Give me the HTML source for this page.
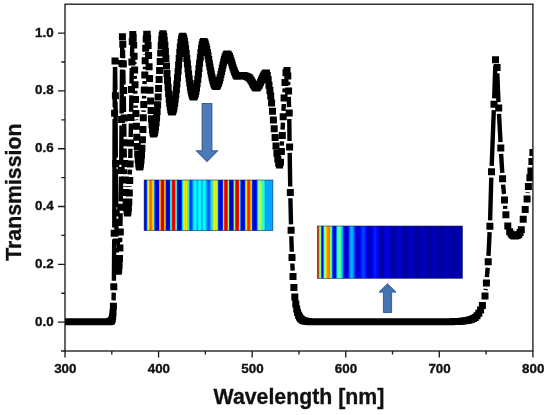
<!DOCTYPE html>
<html><head><meta charset="utf-8"><title>Transmission</title>
<style>
html,body{margin:0;padding:0;background:#fff;}
body{width:550px;height:415px;overflow:hidden;}
svg{display:block;}
text{font-family:"Liberation Sans",Arial,sans-serif;font-weight:bold;fill:#111;}
.tl{font-size:13.4px;stroke:#111;stroke-width:0.35px;}
.al{font-size:21.3px;stroke:#111;stroke-width:0.3px;}
</style></head><body>
<svg width="550" height="415" viewBox="0 0 550 415">
<defs><linearGradient id="g1" x1="0" x2="1" y1="0" y2="0"><stop offset="0.0000" stop-color="#0000de"/><stop offset="0.0039" stop-color="#0000c6"/><stop offset="0.0078" stop-color="#0000bd"/><stop offset="0.0117" stop-color="#0000c5"/><stop offset="0.0156" stop-color="#0000f8"/><stop offset="0.0195" stop-color="#004dff"/><stop offset="0.0233" stop-color="#00b7ff"/><stop offset="0.0272" stop-color="#2dffd1"/><stop offset="0.0311" stop-color="#a0ff5e"/><stop offset="0.0350" stop-color="#fff600"/><stop offset="0.0389" stop-color="#ffa800"/><stop offset="0.0428" stop-color="#ff7e00"/><stop offset="0.0467" stop-color="#ff6b00"/><stop offset="0.0506" stop-color="#ff6100"/><stop offset="0.0545" stop-color="#ff6600"/><stop offset="0.0584" stop-color="#ff7700"/><stop offset="0.0623" stop-color="#ff9600"/><stop offset="0.0661" stop-color="#ffdd00"/><stop offset="0.0700" stop-color="#bbff43"/><stop offset="0.0739" stop-color="#46ffb8"/><stop offset="0.0778" stop-color="#00ccff"/><stop offset="0.0817" stop-color="#005eff"/><stop offset="0.0856" stop-color="#0006ff"/><stop offset="0.0895" stop-color="#0000d2"/><stop offset="0.0934" stop-color="#0000c5"/><stop offset="0.0973" stop-color="#0000be"/><stop offset="0.1012" stop-color="#0000bc"/><stop offset="0.1051" stop-color="#0000c1"/><stop offset="0.1089" stop-color="#0000ca"/><stop offset="0.1128" stop-color="#0000fa"/><stop offset="0.1167" stop-color="#007bff"/><stop offset="0.1206" stop-color="#2bffd3"/><stop offset="0.1245" stop-color="#e7ff17"/><stop offset="0.1284" stop-color="#ff6f00"/><stop offset="0.1323" stop-color="#fe0000"/><stop offset="0.1362" stop-color="#db0000"/><stop offset="0.1401" stop-color="#cb0000"/><stop offset="0.1440" stop-color="#c70000"/><stop offset="0.1479" stop-color="#d30000"/><stop offset="0.1518" stop-color="#e80000"/><stop offset="0.1556" stop-color="#ff3a00"/><stop offset="0.1595" stop-color="#ffd500"/><stop offset="0.1634" stop-color="#6aff94"/><stop offset="0.1673" stop-color="#00acff"/><stop offset="0.1712" stop-color="#0017ff"/><stop offset="0.1751" stop-color="#0000cd"/><stop offset="0.1790" stop-color="#0000c3"/><stop offset="0.1829" stop-color="#0000bd"/><stop offset="0.1868" stop-color="#0000bd"/><stop offset="0.1907" stop-color="#0000c3"/><stop offset="0.1946" stop-color="#0000cd"/><stop offset="0.1984" stop-color="#000eff"/><stop offset="0.2023" stop-color="#008dff"/><stop offset="0.2062" stop-color="#33ffcb"/><stop offset="0.2101" stop-color="#e1ff1d"/><stop offset="0.2140" stop-color="#ff8000"/><stop offset="0.2179" stop-color="#ff1200"/><stop offset="0.2218" stop-color="#e80000"/><stop offset="0.2257" stop-color="#d70000"/><stop offset="0.2296" stop-color="#d10000"/><stop offset="0.2335" stop-color="#da0000"/><stop offset="0.2374" stop-color="#ee0000"/><stop offset="0.2412" stop-color="#ff2f00"/><stop offset="0.2451" stop-color="#ffb900"/><stop offset="0.2490" stop-color="#93ff6b"/><stop offset="0.2529" stop-color="#00daff"/><stop offset="0.2568" stop-color="#003cff"/><stop offset="0.2607" stop-color="#0000da"/><stop offset="0.2646" stop-color="#0000c6"/><stop offset="0.2685" stop-color="#0000be"/><stop offset="0.2724" stop-color="#0000bc"/><stop offset="0.2763" stop-color="#0000c1"/><stop offset="0.2802" stop-color="#0000c9"/><stop offset="0.2840" stop-color="#0000dc"/><stop offset="0.2879" stop-color="#000bff"/><stop offset="0.2918" stop-color="#004dff"/><stop offset="0.2957" stop-color="#009eff"/><stop offset="0.2996" stop-color="#00f6ff"/><stop offset="0.3035" stop-color="#50ffae"/><stop offset="0.3074" stop-color="#a4ff5a"/><stop offset="0.3113" stop-color="#ecff12"/><stop offset="0.3152" stop-color="#ffdb00"/><stop offset="0.3191" stop-color="#ffbf00"/><stop offset="0.3230" stop-color="#ffc000"/><stop offset="0.3268" stop-color="#ffd500"/><stop offset="0.3307" stop-color="#fff600"/><stop offset="0.3346" stop-color="#ddff21"/><stop offset="0.3385" stop-color="#b2ff4c"/><stop offset="0.3424" stop-color="#74ff8a"/><stop offset="0.3463" stop-color="#1dffe1"/><stop offset="0.3502" stop-color="#00beff"/><stop offset="0.3541" stop-color="#006cff"/><stop offset="0.3580" stop-color="#0037ff"/><stop offset="0.3619" stop-color="#002fff"/><stop offset="0.3658" stop-color="#003cff"/><stop offset="0.3696" stop-color="#0055ff"/><stop offset="0.3735" stop-color="#0075ff"/><stop offset="0.3774" stop-color="#0099ff"/><stop offset="0.3813" stop-color="#00bdff"/><stop offset="0.3852" stop-color="#00ddff"/><stop offset="0.3891" stop-color="#00f6ff"/><stop offset="0.3930" stop-color="#04fffa"/><stop offset="0.3969" stop-color="#02fffc"/><stop offset="0.4008" stop-color="#00f7ff"/><stop offset="0.4047" stop-color="#00e8ff"/><stop offset="0.4086" stop-color="#00daff"/><stop offset="0.4125" stop-color="#00d1ff"/><stop offset="0.4163" stop-color="#00d4ff"/><stop offset="0.4202" stop-color="#00e3ff"/><stop offset="0.4241" stop-color="#00f6ff"/><stop offset="0.4280" stop-color="#08fff6"/><stop offset="0.4319" stop-color="#0fffef"/><stop offset="0.4358" stop-color="#06fff8"/><stop offset="0.4397" stop-color="#00f2ff"/><stop offset="0.4436" stop-color="#00deff"/><stop offset="0.4475" stop-color="#00d2ff"/><stop offset="0.4514" stop-color="#00d3ff"/><stop offset="0.4553" stop-color="#00ddff"/><stop offset="0.4591" stop-color="#00ebff"/><stop offset="0.4630" stop-color="#00f9ff"/><stop offset="0.4669" stop-color="#03fffb"/><stop offset="0.4708" stop-color="#03fffb"/><stop offset="0.4747" stop-color="#00f3ff"/><stop offset="0.4786" stop-color="#00daff"/><stop offset="0.4825" stop-color="#00bbff"/><stop offset="0.4864" stop-color="#0099ff"/><stop offset="0.4903" stop-color="#007bff"/><stop offset="0.4942" stop-color="#0063ff"/><stop offset="0.4981" stop-color="#0057ff"/><stop offset="0.5019" stop-color="#0059ff"/><stop offset="0.5058" stop-color="#0066ff"/><stop offset="0.5097" stop-color="#007cff"/><stop offset="0.5136" stop-color="#0099ff"/><stop offset="0.5175" stop-color="#00baff"/><stop offset="0.5214" stop-color="#00deff"/><stop offset="0.5253" stop-color="#07fff7"/><stop offset="0.5292" stop-color="#43ffbb"/><stop offset="0.5331" stop-color="#7bff83"/><stop offset="0.5370" stop-color="#a8ff56"/><stop offset="0.5409" stop-color="#d5ff29"/><stop offset="0.5447" stop-color="#feff00"/><stop offset="0.5486" stop-color="#ffe100"/><stop offset="0.5525" stop-color="#ffd100"/><stop offset="0.5564" stop-color="#ffdd00"/><stop offset="0.5603" stop-color="#ecff12"/><stop offset="0.5642" stop-color="#9bff63"/><stop offset="0.5681" stop-color="#38ffc6"/><stop offset="0.5720" stop-color="#00cdff"/><stop offset="0.5759" stop-color="#0069ff"/><stop offset="0.5798" stop-color="#0015ff"/><stop offset="0.5837" stop-color="#0000db"/><stop offset="0.5875" stop-color="#0000c8"/><stop offset="0.5914" stop-color="#0000c0"/><stop offset="0.5953" stop-color="#0000bc"/><stop offset="0.5992" stop-color="#0000bf"/><stop offset="0.6031" stop-color="#0000c7"/><stop offset="0.6070" stop-color="#0000e7"/><stop offset="0.6109" stop-color="#006dff"/><stop offset="0.6148" stop-color="#34ffca"/><stop offset="0.6187" stop-color="#fff600"/><stop offset="0.6226" stop-color="#ff4800"/><stop offset="0.6265" stop-color="#f00000"/><stop offset="0.6304" stop-color="#dc0000"/><stop offset="0.6342" stop-color="#d10000"/><stop offset="0.6381" stop-color="#d50000"/><stop offset="0.6420" stop-color="#e60000"/><stop offset="0.6459" stop-color="#ff0f00"/><stop offset="0.6498" stop-color="#ff8900"/><stop offset="0.6537" stop-color="#c6ff38"/><stop offset="0.6576" stop-color="#06fff8"/><stop offset="0.6615" stop-color="#0059ff"/><stop offset="0.6654" stop-color="#0000e5"/><stop offset="0.6693" stop-color="#0000c7"/><stop offset="0.6732" stop-color="#0000bf"/><stop offset="0.6770" stop-color="#0000bc"/><stop offset="0.6809" stop-color="#0000bf"/><stop offset="0.6848" stop-color="#0000c8"/><stop offset="0.6887" stop-color="#0000e1"/><stop offset="0.6926" stop-color="#003dff"/><stop offset="0.6965" stop-color="#00c7ff"/><stop offset="0.7004" stop-color="#6bff93"/><stop offset="0.7043" stop-color="#ffed00"/><stop offset="0.7082" stop-color="#ff5f00"/><stop offset="0.7121" stop-color="#fe0000"/><stop offset="0.7160" stop-color="#dc0000"/><stop offset="0.7198" stop-color="#cb0000"/><stop offset="0.7237" stop-color="#c70000"/><stop offset="0.7276" stop-color="#d20000"/><stop offset="0.7315" stop-color="#e60000"/><stop offset="0.7354" stop-color="#ff3400"/><stop offset="0.7393" stop-color="#ffcc00"/><stop offset="0.7432" stop-color="#74ff8a"/><stop offset="0.7471" stop-color="#00b5ff"/><stop offset="0.7510" stop-color="#001dff"/><stop offset="0.7549" stop-color="#0000ce"/><stop offset="0.7588" stop-color="#0000c3"/><stop offset="0.7626" stop-color="#0000bd"/><stop offset="0.7665" stop-color="#0000bd"/><stop offset="0.7704" stop-color="#0000c3"/><stop offset="0.7743" stop-color="#0000cc"/><stop offset="0.7782" stop-color="#0000f9"/><stop offset="0.7821" stop-color="#0058ff"/><stop offset="0.7860" stop-color="#00d4ff"/><stop offset="0.7899" stop-color="#60ff9e"/><stop offset="0.7938" stop-color="#e8ff16"/><stop offset="0.7977" stop-color="#ffa200"/><stop offset="0.8016" stop-color="#ff5500"/><stop offset="0.8054" stop-color="#ff3800"/><stop offset="0.8093" stop-color="#ff2700"/><stop offset="0.8132" stop-color="#ff2400"/><stop offset="0.8171" stop-color="#ff3000"/><stop offset="0.8210" stop-color="#ff4400"/><stop offset="0.8249" stop-color="#ff8500"/><stop offset="0.8288" stop-color="#fffd00"/><stop offset="0.8327" stop-color="#6aff94"/><stop offset="0.8366" stop-color="#00cdff"/><stop offset="0.8405" stop-color="#0044ff"/><stop offset="0.8444" stop-color="#0000e6"/><stop offset="0.8482" stop-color="#0000c8"/><stop offset="0.8521" stop-color="#0000c0"/><stop offset="0.8560" stop-color="#0000bc"/><stop offset="0.8599" stop-color="#0000bf"/><stop offset="0.8638" stop-color="#0000c7"/><stop offset="0.8677" stop-color="#0000d6"/><stop offset="0.8716" stop-color="#0007ff"/><stop offset="0.8755" stop-color="#0052ff"/><stop offset="0.8794" stop-color="#00acff"/><stop offset="0.8833" stop-color="#0bfff3"/><stop offset="0.8872" stop-color="#61ff9d"/><stop offset="0.8911" stop-color="#a5ff59"/><stop offset="0.8949" stop-color="#ccff32"/><stop offset="0.8988" stop-color="#cdff31"/><stop offset="0.9027" stop-color="#b9ff45"/><stop offset="0.9066" stop-color="#99ff65"/><stop offset="0.9105" stop-color="#74ff8a"/><stop offset="0.9144" stop-color="#52ffac"/><stop offset="0.9183" stop-color="#3bffc3"/><stop offset="0.9222" stop-color="#31ffcd"/><stop offset="0.9261" stop-color="#2cffd2"/><stop offset="0.9300" stop-color="#27ffd7"/><stop offset="0.9339" stop-color="#1fffdf"/><stop offset="0.9377" stop-color="#00edff"/><stop offset="0.9416" stop-color="#00a8ff"/><stop offset="0.9455" stop-color="#00a8ff"/><stop offset="0.9494" stop-color="#00a8ff"/><stop offset="0.9533" stop-color="#00a8ff"/><stop offset="0.9572" stop-color="#00a8ff"/><stop offset="0.9611" stop-color="#00a8ff"/><stop offset="0.9650" stop-color="#00a8ff"/><stop offset="0.9689" stop-color="#00a8ff"/><stop offset="0.9728" stop-color="#00a8ff"/><stop offset="0.9767" stop-color="#00a8ff"/><stop offset="0.9805" stop-color="#00a8ff"/><stop offset="0.9844" stop-color="#00a8ff"/><stop offset="0.9883" stop-color="#00a8ff"/><stop offset="0.9922" stop-color="#00a8ff"/><stop offset="0.9961" stop-color="#00a8ff"/><stop offset="1.0000" stop-color="#00a8ff"/></linearGradient><linearGradient id="g2" x1="0" x2="1" y1="0" y2="0"><stop offset="0.0000" stop-color="#ff4c00"/><stop offset="0.0034" stop-color="#ff5500"/><stop offset="0.0069" stop-color="#ff6900"/><stop offset="0.0103" stop-color="#ff8400"/><stop offset="0.0138" stop-color="#ffa600"/><stop offset="0.0172" stop-color="#ffdb00"/><stop offset="0.0207" stop-color="#baff44"/><stop offset="0.0241" stop-color="#32ffcc"/><stop offset="0.0276" stop-color="#0097ff"/><stop offset="0.0310" stop-color="#0000fd"/><stop offset="0.0345" stop-color="#0000e0"/><stop offset="0.0379" stop-color="#0012ff"/><stop offset="0.0414" stop-color="#005fff"/><stop offset="0.0448" stop-color="#00c7ff"/><stop offset="0.0483" stop-color="#59ffa5"/><stop offset="0.0517" stop-color="#a6ff58"/><stop offset="0.0552" stop-color="#d4ff2a"/><stop offset="0.0586" stop-color="#fffa00"/><stop offset="0.0621" stop-color="#ffcd00"/><stop offset="0.0655" stop-color="#ffac00"/><stop offset="0.0690" stop-color="#ff9100"/><stop offset="0.0724" stop-color="#ff8100"/><stop offset="0.0759" stop-color="#ff8000"/><stop offset="0.0793" stop-color="#ff8300"/><stop offset="0.0828" stop-color="#ff8a00"/><stop offset="0.0862" stop-color="#cfff2f"/><stop offset="0.0897" stop-color="#8dff71"/><stop offset="0.0931" stop-color="#67ff97"/><stop offset="0.0966" stop-color="#35ffc9"/><stop offset="0.1000" stop-color="#00f6ff"/><stop offset="0.1034" stop-color="#0083ff"/><stop offset="0.1069" stop-color="#000fff"/><stop offset="0.1103" stop-color="#0000e6"/><stop offset="0.1138" stop-color="#0000d0"/><stop offset="0.1172" stop-color="#0000c7"/><stop offset="0.1207" stop-color="#0000cf"/><stop offset="0.1241" stop-color="#0000ea"/><stop offset="0.1276" stop-color="#0011ff"/><stop offset="0.1310" stop-color="#0063ff"/><stop offset="0.1345" stop-color="#00d3ff"/><stop offset="0.1379" stop-color="#1bffe3"/><stop offset="0.1414" stop-color="#39ffc5"/><stop offset="0.1448" stop-color="#51ffad"/><stop offset="0.1483" stop-color="#5effa0"/><stop offset="0.1517" stop-color="#60ff9e"/><stop offset="0.1552" stop-color="#5dffa1"/><stop offset="0.1586" stop-color="#57ffa7"/><stop offset="0.1621" stop-color="#4dffb1"/><stop offset="0.1655" stop-color="#41ffbd"/><stop offset="0.1690" stop-color="#13ffeb"/><stop offset="0.1724" stop-color="#00c9ff"/><stop offset="0.1759" stop-color="#007fff"/><stop offset="0.1793" stop-color="#002aff"/><stop offset="0.1828" stop-color="#0000f8"/><stop offset="0.1862" stop-color="#0000e5"/><stop offset="0.1897" stop-color="#0000d6"/><stop offset="0.1931" stop-color="#0000cc"/><stop offset="0.1966" stop-color="#0000c7"/><stop offset="0.2000" stop-color="#0000c9"/><stop offset="0.2034" stop-color="#0000d6"/><stop offset="0.2069" stop-color="#0000e9"/><stop offset="0.2103" stop-color="#0000ff"/><stop offset="0.2138" stop-color="#0015ff"/><stop offset="0.2172" stop-color="#0030ff"/><stop offset="0.2207" stop-color="#0052ff"/><stop offset="0.2241" stop-color="#0075ff"/><stop offset="0.2276" stop-color="#0096ff"/><stop offset="0.2310" stop-color="#00afff"/><stop offset="0.2345" stop-color="#00bbff"/><stop offset="0.2379" stop-color="#00baff"/><stop offset="0.2414" stop-color="#00aeff"/><stop offset="0.2448" stop-color="#009cff"/><stop offset="0.2483" stop-color="#0083ff"/><stop offset="0.2517" stop-color="#0067ff"/><stop offset="0.2552" stop-color="#0048ff"/><stop offset="0.2586" stop-color="#0029ff"/><stop offset="0.2621" stop-color="#000bff"/><stop offset="0.2655" stop-color="#0000f0"/><stop offset="0.2690" stop-color="#0000db"/><stop offset="0.2724" stop-color="#0000cc"/><stop offset="0.2759" stop-color="#0000c6"/><stop offset="0.2793" stop-color="#0000c8"/><stop offset="0.2828" stop-color="#0000cf"/><stop offset="0.2862" stop-color="#0000d9"/><stop offset="0.2897" stop-color="#0000e5"/><stop offset="0.2931" stop-color="#0000f3"/><stop offset="0.2966" stop-color="#0003ff"/><stop offset="0.3000" stop-color="#0013ff"/><stop offset="0.3034" stop-color="#0021ff"/><stop offset="0.3069" stop-color="#002eff"/><stop offset="0.3103" stop-color="#0038ff"/><stop offset="0.3138" stop-color="#003fff"/><stop offset="0.3172" stop-color="#0042ff"/><stop offset="0.3207" stop-color="#003fff"/><stop offset="0.3241" stop-color="#0038ff"/><stop offset="0.3276" stop-color="#002cff"/><stop offset="0.3310" stop-color="#001dff"/><stop offset="0.3345" stop-color="#000cff"/><stop offset="0.3379" stop-color="#0000f9"/><stop offset="0.3414" stop-color="#0000e7"/><stop offset="0.3448" stop-color="#0000d6"/><stop offset="0.3483" stop-color="#0000c7"/><stop offset="0.3517" stop-color="#0000bc"/><stop offset="0.3552" stop-color="#0000b4"/><stop offset="0.3586" stop-color="#0000b2"/><stop offset="0.3621" stop-color="#0000b5"/><stop offset="0.3655" stop-color="#0000bc"/><stop offset="0.3690" stop-color="#0000c6"/><stop offset="0.3724" stop-color="#0000d2"/><stop offset="0.3759" stop-color="#0000e0"/><stop offset="0.3793" stop-color="#0000ee"/><stop offset="0.3828" stop-color="#0000fc"/><stop offset="0.3862" stop-color="#0009ff"/><stop offset="0.3897" stop-color="#0013ff"/><stop offset="0.3931" stop-color="#001bff"/><stop offset="0.3966" stop-color="#001eff"/><stop offset="0.4000" stop-color="#001dff"/><stop offset="0.4034" stop-color="#0017ff"/><stop offset="0.4069" stop-color="#000fff"/><stop offset="0.4103" stop-color="#0003ff"/><stop offset="0.4138" stop-color="#0000f5"/><stop offset="0.4172" stop-color="#0000e6"/><stop offset="0.4207" stop-color="#0000d8"/><stop offset="0.4241" stop-color="#0000c9"/><stop offset="0.4276" stop-color="#0000bc"/><stop offset="0.4310" stop-color="#0000b1"/><stop offset="0.4345" stop-color="#0000a8"/><stop offset="0.4379" stop-color="#0000a4"/><stop offset="0.4414" stop-color="#0000a3"/><stop offset="0.4448" stop-color="#0000a5"/><stop offset="0.4483" stop-color="#0000a9"/><stop offset="0.4517" stop-color="#0000af"/><stop offset="0.4552" stop-color="#0000b6"/><stop offset="0.4586" stop-color="#0000bd"/><stop offset="0.4621" stop-color="#0000c5"/><stop offset="0.4655" stop-color="#0000cd"/><stop offset="0.4690" stop-color="#0000d5"/><stop offset="0.4724" stop-color="#0000db"/><stop offset="0.4759" stop-color="#0000e0"/><stop offset="0.4793" stop-color="#0000e4"/><stop offset="0.4828" stop-color="#0000e5"/><stop offset="0.4862" stop-color="#0000e4"/><stop offset="0.4897" stop-color="#0000e0"/><stop offset="0.4931" stop-color="#0000da"/><stop offset="0.4966" stop-color="#0000d2"/><stop offset="0.5000" stop-color="#0000c9"/><stop offset="0.5034" stop-color="#0000c0"/><stop offset="0.5069" stop-color="#0000b7"/><stop offset="0.5103" stop-color="#0000af"/><stop offset="0.5138" stop-color="#0000a8"/><stop offset="0.5172" stop-color="#0000a2"/><stop offset="0.5207" stop-color="#00009f"/><stop offset="0.5241" stop-color="#00009e"/><stop offset="0.5276" stop-color="#00009f"/><stop offset="0.5310" stop-color="#0000a2"/><stop offset="0.5345" stop-color="#0000a6"/><stop offset="0.5379" stop-color="#0000ac"/><stop offset="0.5414" stop-color="#0000b2"/><stop offset="0.5448" stop-color="#0000b8"/><stop offset="0.5483" stop-color="#0000be"/><stop offset="0.5517" stop-color="#0000c4"/><stop offset="0.5552" stop-color="#0000c9"/><stop offset="0.5586" stop-color="#0000cd"/><stop offset="0.5621" stop-color="#0000d0"/><stop offset="0.5655" stop-color="#0000d1"/><stop offset="0.5690" stop-color="#0000cf"/><stop offset="0.5724" stop-color="#0000cc"/><stop offset="0.5759" stop-color="#0000c7"/><stop offset="0.5793" stop-color="#0000c2"/><stop offset="0.5828" stop-color="#0000bb"/><stop offset="0.5862" stop-color="#0000b4"/><stop offset="0.5897" stop-color="#0000ae"/><stop offset="0.5931" stop-color="#0000a8"/><stop offset="0.5966" stop-color="#0000a3"/><stop offset="0.6000" stop-color="#00009f"/><stop offset="0.6034" stop-color="#00009e"/><stop offset="0.6069" stop-color="#00009e"/><stop offset="0.6103" stop-color="#0000a0"/><stop offset="0.6138" stop-color="#0000a3"/><stop offset="0.6172" stop-color="#0000a6"/><stop offset="0.6207" stop-color="#0000aa"/><stop offset="0.6241" stop-color="#0000af"/><stop offset="0.6276" stop-color="#0000b3"/><stop offset="0.6310" stop-color="#0000b7"/><stop offset="0.6345" stop-color="#0000bb"/><stop offset="0.6379" stop-color="#0000be"/><stop offset="0.6414" stop-color="#0000c0"/><stop offset="0.6448" stop-color="#0000c1"/><stop offset="0.6483" stop-color="#0000c1"/><stop offset="0.6517" stop-color="#0000bf"/><stop offset="0.6552" stop-color="#0000bc"/><stop offset="0.6586" stop-color="#0000b9"/><stop offset="0.6621" stop-color="#0000b4"/><stop offset="0.6655" stop-color="#0000b0"/><stop offset="0.6690" stop-color="#0000ac"/><stop offset="0.6724" stop-color="#0000a7"/><stop offset="0.6759" stop-color="#0000a4"/><stop offset="0.6793" stop-color="#0000a1"/><stop offset="0.6828" stop-color="#00009e"/><stop offset="0.6862" stop-color="#00009e"/><stop offset="0.6897" stop-color="#00009e"/><stop offset="0.6931" stop-color="#0000a0"/><stop offset="0.6966" stop-color="#0000a2"/><stop offset="0.7000" stop-color="#0000a5"/><stop offset="0.7034" stop-color="#0000a9"/><stop offset="0.7069" stop-color="#0000ac"/><stop offset="0.7103" stop-color="#0000b0"/><stop offset="0.7138" stop-color="#0000b4"/><stop offset="0.7172" stop-color="#0000b7"/><stop offset="0.7207" stop-color="#0000ba"/><stop offset="0.7241" stop-color="#0000bb"/><stop offset="0.7276" stop-color="#0000bc"/><stop offset="0.7310" stop-color="#0000bc"/><stop offset="0.7345" stop-color="#0000ba"/><stop offset="0.7379" stop-color="#0000b8"/><stop offset="0.7414" stop-color="#0000b5"/><stop offset="0.7448" stop-color="#0000b1"/><stop offset="0.7483" stop-color="#0000ad"/><stop offset="0.7517" stop-color="#0000a9"/><stop offset="0.7552" stop-color="#0000a6"/><stop offset="0.7586" stop-color="#0000a3"/><stop offset="0.7621" stop-color="#0000a0"/><stop offset="0.7655" stop-color="#00009e"/><stop offset="0.7690" stop-color="#00009e"/><stop offset="0.7724" stop-color="#00009e"/><stop offset="0.7759" stop-color="#00009f"/><stop offset="0.7793" stop-color="#0000a1"/><stop offset="0.7828" stop-color="#0000a4"/><stop offset="0.7862" stop-color="#0000a7"/><stop offset="0.7897" stop-color="#0000aa"/><stop offset="0.7931" stop-color="#0000ad"/><stop offset="0.7966" stop-color="#0000b0"/><stop offset="0.8000" stop-color="#0000b3"/><stop offset="0.8034" stop-color="#0000b5"/><stop offset="0.8069" stop-color="#0000b7"/><stop offset="0.8103" stop-color="#0000b7"/><stop offset="0.8138" stop-color="#0000b7"/><stop offset="0.8172" stop-color="#0000b5"/><stop offset="0.8207" stop-color="#0000b3"/><stop offset="0.8241" stop-color="#0000b1"/><stop offset="0.8276" stop-color="#0000ae"/><stop offset="0.8310" stop-color="#0000ab"/><stop offset="0.8345" stop-color="#0000a7"/><stop offset="0.8379" stop-color="#0000a4"/><stop offset="0.8414" stop-color="#0000a2"/><stop offset="0.8448" stop-color="#0000a0"/><stop offset="0.8483" stop-color="#00009e"/><stop offset="0.8517" stop-color="#00009e"/><stop offset="0.8552" stop-color="#00009e"/><stop offset="0.8586" stop-color="#00009f"/><stop offset="0.8621" stop-color="#0000a1"/><stop offset="0.8655" stop-color="#0000a3"/><stop offset="0.8690" stop-color="#0000a5"/><stop offset="0.8724" stop-color="#0000a8"/><stop offset="0.8759" stop-color="#0000aa"/><stop offset="0.8793" stop-color="#0000ad"/><stop offset="0.8828" stop-color="#0000af"/><stop offset="0.8862" stop-color="#0000b0"/><stop offset="0.8897" stop-color="#0000b2"/><stop offset="0.8931" stop-color="#0000b2"/><stop offset="0.8966" stop-color="#0000b2"/><stop offset="0.9000" stop-color="#0000b1"/><stop offset="0.9034" stop-color="#0000af"/><stop offset="0.9069" stop-color="#0000ad"/><stop offset="0.9103" stop-color="#0000aa"/><stop offset="0.9138" stop-color="#0000a8"/><stop offset="0.9172" stop-color="#0000a5"/><stop offset="0.9207" stop-color="#0000a3"/><stop offset="0.9241" stop-color="#0000a1"/><stop offset="0.9276" stop-color="#00009f"/><stop offset="0.9310" stop-color="#00009e"/><stop offset="0.9345" stop-color="#00009e"/><stop offset="0.9379" stop-color="#00009e"/><stop offset="0.9414" stop-color="#00009f"/><stop offset="0.9448" stop-color="#0000a0"/><stop offset="0.9483" stop-color="#0000a2"/><stop offset="0.9517" stop-color="#0000a3"/><stop offset="0.9552" stop-color="#0000a5"/><stop offset="0.9586" stop-color="#0000a7"/><stop offset="0.9621" stop-color="#0000a9"/><stop offset="0.9655" stop-color="#0000aa"/><stop offset="0.9690" stop-color="#0000ac"/><stop offset="0.9724" stop-color="#0000ad"/><stop offset="0.9759" stop-color="#0000ad"/><stop offset="0.9793" stop-color="#0000ad"/><stop offset="0.9828" stop-color="#0000ac"/><stop offset="0.9862" stop-color="#0000ac"/><stop offset="0.9897" stop-color="#0000ab"/><stop offset="0.9931" stop-color="#0000aa"/><stop offset="0.9966" stop-color="#0000a9"/><stop offset="1.0000" stop-color="#0000a8"/></linearGradient><clipPath id="cp"><rect x="65.0" y="4.2" width="467.9" height="346.8"/></clipPath></defs>
<rect width="550" height="415" fill="#fff"/>
<g clip-path="url(#cp)"><path d="M113.6 300.4L113.7 292.6M113.9 280.8L114.2 239.2M114.3 227.4L114.6 119.1M114.7 107.3L115.0 66.9M115.1 66.9L115.4 89.8M115.5 101.6L115.8 157.5M115.9 169.3L116.2 207.0M116.3 218.8L116.6 236.2M116.8 248.0L116.9 252.5M120.1 242.1L120.2 237.7M120.4 226.0L120.6 213.2M120.8 201.4L121.1 176.5M121.2 164.7L121.5 125.4M121.6 113.6L122.0 69.5M122.1 57.7L122.3 42.6M123.0 50.1L123.1 58.2M123.3 70.0L123.6 84.6M123.8 96.4L124.0 112.0M124.2 123.8L124.4 136.8M124.6 148.6L124.8 157.6M125.1 169.4L125.2 174.1M125.6 185.9L125.6 186.7M129.5 187.0L129.5 186.3M129.8 174.5L130.0 169.7M130.3 158.0L130.4 148.8M130.7 137.0L130.9 123.5M131.1 111.8L131.4 95.4M131.5 83.6L131.8 68.0M132.0 56.2L132.2 47.5M134.3 62.2L134.4 64.1M134.7 75.9L134.8 78.9M135.2 90.7L135.3 93.7M135.7 105.5L135.7 107.7M136.1 119.5L136.2 120.3M143.5 111.8L143.6 110.3M144.0 98.5L144.1 95.9M144.5 84.1L144.6 81.0M145.0 69.2L145.0 66.7M145.5 54.9L145.5 54.2M281.7 145.7L282.0 141.4M282.6 129.6L282.9 122.6M283.5 110.8L283.8 104.0M284.5 92.3L284.7 88.4M288.1 81.9L288.3 85.1M288.8 96.9L289.0 107.1M289.3 118.9L289.5 141.1M289.7 152.9L290.2 186.5M290.4 198.3L291.0 224.4M291.3 236.2L291.8 251.7M292.3 263.5L292.7 270.6M485.6 290.1L485.8 288.9M486.9 277.1L487.7 267.7M488.5 255.9L489.6 232.2M490.1 220.4L491.3 177.6M491.7 165.8L493.8 110.2M494.2 98.4L495.3 65.7M497.3 73.4L498.5 102.1M499.0 113.9L500.5 142.1M501.1 153.9L502.3 172.8M503.1 184.6L504.0 194.0M505.1 205.8L505.3 208.8M527.7 193.0L527.8 192.3" stroke="#000" stroke-width="4.4" fill="none"/><path d="M61.5 318.3h7.0v7.0h-7.0zM61.8 318.3h7.0v7.0h-7.0zM62.1 318.3h7.0v7.0h-7.0zM62.4 318.3h7.0v7.0h-7.0zM62.7 318.3h7.0v7.0h-7.0zM63.0 318.3h7.0v7.0h-7.0zM63.2 318.3h7.0v7.0h-7.0zM63.5 318.3h7.0v7.0h-7.0zM63.8 318.3h7.0v7.0h-7.0zM64.1 318.3h7.0v7.0h-7.0zM64.4 318.3h7.0v7.0h-7.0zM64.7 318.3h7.0v7.0h-7.0zM65.0 318.3h7.0v7.0h-7.0zM65.3 318.3h7.0v7.0h-7.0zM65.6 318.3h7.0v7.0h-7.0zM65.9 318.3h7.0v7.0h-7.0zM66.2 318.3h7.0v7.0h-7.0zM66.5 318.3h7.0v7.0h-7.0zM66.8 318.3h7.0v7.0h-7.0zM67.1 318.3h7.0v7.0h-7.0zM67.4 318.3h7.0v7.0h-7.0zM67.7 318.3h7.0v7.0h-7.0zM68.0 318.3h7.0v7.0h-7.0zM68.3 318.3h7.0v7.0h-7.0zM68.6 318.3h7.0v7.0h-7.0zM68.9 318.3h7.0v7.0h-7.0zM69.2 318.3h7.0v7.0h-7.0zM69.5 318.3h7.0v7.0h-7.0zM69.8 318.3h7.0v7.0h-7.0zM70.1 318.3h7.0v7.0h-7.0zM70.4 318.3h7.0v7.0h-7.0zM70.8 318.3h7.0v7.0h-7.0zM71.1 318.3h7.0v7.0h-7.0zM71.4 318.3h7.0v7.0h-7.0zM71.7 318.3h7.0v7.0h-7.0zM72.0 318.3h7.0v7.0h-7.0zM72.3 318.3h7.0v7.0h-7.0zM72.6 318.3h7.0v7.0h-7.0zM72.9 318.3h7.0v7.0h-7.0zM73.2 318.3h7.0v7.0h-7.0zM73.6 318.3h7.0v7.0h-7.0zM73.9 318.3h7.0v7.0h-7.0zM74.2 318.3h7.0v7.0h-7.0zM74.5 318.3h7.0v7.0h-7.0zM74.8 318.3h7.0v7.0h-7.0zM75.1 318.3h7.0v7.0h-7.0zM75.4 318.3h7.0v7.0h-7.0zM75.8 318.3h7.0v7.0h-7.0zM76.1 318.3h7.0v7.0h-7.0zM76.4 318.3h7.0v7.0h-7.0zM76.7 318.3h7.0v7.0h-7.0zM77.0 318.3h7.0v7.0h-7.0zM77.4 318.3h7.0v7.0h-7.0zM77.7 318.3h7.0v7.0h-7.0zM78.0 318.3h7.0v7.0h-7.0zM78.3 318.3h7.0v7.0h-7.0zM78.7 318.3h7.0v7.0h-7.0zM79.0 318.3h7.0v7.0h-7.0zM79.3 318.3h7.0v7.0h-7.0zM79.6 318.3h7.0v7.0h-7.0zM80.0 318.3h7.0v7.0h-7.0zM80.3 318.3h7.0v7.0h-7.0zM80.6 318.3h7.0v7.0h-7.0zM81.0 318.3h7.0v7.0h-7.0zM81.3 318.3h7.0v7.0h-7.0zM81.6 318.3h7.0v7.0h-7.0zM82.0 318.3h7.0v7.0h-7.0zM82.3 318.3h7.0v7.0h-7.0zM82.6 318.3h7.0v7.0h-7.0zM83.0 318.3h7.0v7.0h-7.0zM83.3 318.3h7.0v7.0h-7.0zM83.6 318.3h7.0v7.0h-7.0zM84.0 318.3h7.0v7.0h-7.0zM84.3 318.3h7.0v7.0h-7.0zM84.6 318.3h7.0v7.0h-7.0zM85.0 318.3h7.0v7.0h-7.0zM85.3 318.3h7.0v7.0h-7.0zM85.7 318.3h7.0v7.0h-7.0zM86.0 318.3h7.0v7.0h-7.0zM86.3 318.3h7.0v7.0h-7.0zM86.7 318.3h7.0v7.0h-7.0zM87.0 318.3h7.0v7.0h-7.0zM87.4 318.3h7.0v7.0h-7.0zM87.7 318.3h7.0v7.0h-7.0zM88.1 318.3h7.0v7.0h-7.0zM88.4 318.3h7.0v7.0h-7.0zM88.8 318.3h7.0v7.0h-7.0zM89.1 318.3h7.0v7.0h-7.0zM89.5 318.3h7.0v7.0h-7.0zM89.8 318.3h7.0v7.0h-7.0zM90.2 318.3h7.0v7.0h-7.0zM90.5 318.3h7.0v7.0h-7.0zM90.9 318.3h7.0v7.0h-7.0zM91.2 318.3h7.0v7.0h-7.0zM91.6 318.3h7.0v7.0h-7.0zM91.9 318.3h7.0v7.0h-7.0zM92.3 318.3h7.0v7.0h-7.0zM92.6 318.3h7.0v7.0h-7.0zM93.0 318.3h7.0v7.0h-7.0zM93.3 318.3h7.0v7.0h-7.0zM93.7 318.3h7.0v7.0h-7.0zM94.1 318.3h7.0v7.0h-7.0zM94.4 318.3h7.0v7.0h-7.0zM94.8 318.3h7.0v7.0h-7.0zM95.1 318.3h7.0v7.0h-7.0zM95.5 318.3h7.0v7.0h-7.0zM95.9 318.3h7.0v7.0h-7.0zM96.2 318.3h7.0v7.0h-7.0zM96.6 318.3h7.0v7.0h-7.0zM97.0 318.3h7.0v7.0h-7.0zM97.3 318.3h7.0v7.0h-7.0zM97.7 318.3h7.0v7.0h-7.0zM98.1 318.3h7.0v7.0h-7.0zM98.4 318.3h7.0v7.0h-7.0zM98.8 318.3h7.0v7.0h-7.0zM99.2 318.3h7.0v7.0h-7.0zM99.6 318.3h7.0v7.0h-7.0zM99.9 318.3h7.0v7.0h-7.0zM100.3 318.3h7.0v7.0h-7.0zM100.7 318.3h7.0v7.0h-7.0zM101.0 318.3h7.0v7.0h-7.0zM101.4 318.3h7.0v7.0h-7.0zM101.8 318.3h7.0v7.0h-7.0zM102.2 318.3h7.0v7.0h-7.0zM102.6 318.3h7.0v7.0h-7.0zM102.9 318.3h7.0v7.0h-7.0zM103.3 318.3h7.0v7.0h-7.0zM103.7 318.3h7.0v7.0h-7.0zM104.1 318.3h7.0v7.0h-7.0zM104.5 318.3h7.0v7.0h-7.0zM104.9 318.3h7.0v7.0h-7.0zM105.2 318.2h7.0v7.0h-7.0zM105.6 318.2h7.0v7.0h-7.0zM106.0 318.1h7.0v7.0h-7.0zM106.4 318.0h7.0v7.0h-7.0zM106.8 317.9h7.0v7.0h-7.0zM107.2 317.8h7.0v7.0h-7.0zM107.6 317.6h7.0v7.0h-7.0zM108.0 317.1h7.0v7.0h-7.0zM108.4 316.3h7.0v7.0h-7.0zM108.8 315.2h7.0v7.0h-7.0zM109.1 313.1h7.0v7.0h-7.0zM109.5 309.6h7.0v7.0h-7.0zM109.9 302.8h7.0v7.0h-7.0zM110.3 283.2h7.0v7.0h-7.0zM110.7 229.8h7.0v7.0h-7.0zM111.1 109.7h7.0v7.0h-7.0zM111.5 57.5h7.0v7.0h-7.0zM111.9 92.2h7.0v7.0h-7.0zM112.3 159.9h7.0v7.0h-7.0zM112.7 209.4h7.0v7.0h-7.0zM113.1 238.6h7.0v7.0h-7.0zM113.6 254.9h7.0v7.0h-7.0zM114.0 263.8h7.0v7.0h-7.0zM114.4 267.6h7.0v7.0h-7.0zM114.8 267.8h7.0v7.0h-7.0zM115.2 265.9h7.0v7.0h-7.0zM115.6 261.8h7.0v7.0h-7.0zM116.0 255.0h7.0v7.0h-7.0zM116.4 244.5h7.0v7.0h-7.0zM116.8 228.4h7.0v7.0h-7.0zM117.2 203.8h7.0v7.0h-7.0zM117.7 167.1h7.0v7.0h-7.0zM118.1 116.0h7.0v7.0h-7.0zM118.5 60.1h7.0v7.0h-7.0zM118.9 33.2h7.0v7.0h-7.0zM119.3 40.7h7.0v7.0h-7.0zM119.8 60.6h7.0v7.0h-7.0zM120.2 87.0h7.0v7.0h-7.0zM120.6 114.4h7.0v7.0h-7.0zM121.0 139.2h7.0v7.0h-7.0zM121.4 160.0h7.0v7.0h-7.0zM121.9 176.5h7.0v7.0h-7.0zM122.3 189.1h7.0v7.0h-7.0zM122.7 198.4h7.0v7.0h-7.0zM123.2 204.6h7.0v7.0h-7.0zM123.6 208.2h7.0v7.0h-7.0zM124.0 209.4h7.0v7.0h-7.0zM124.5 208.2h7.0v7.0h-7.0zM124.9 204.6h7.0v7.0h-7.0zM125.3 198.5h7.0v7.0h-7.0zM125.8 189.4h7.0v7.0h-7.0zM126.2 176.9h7.0v7.0h-7.0zM126.6 160.4h7.0v7.0h-7.0zM127.1 139.4h7.0v7.0h-7.0zM127.5 114.1h7.0v7.0h-7.0zM128.0 86.0h7.0v7.0h-7.0zM128.4 58.6h7.0v7.0h-7.0zM128.8 38.1h7.0v7.0h-7.0zM129.3 31.1h7.0v7.0h-7.0zM129.7 33.9h7.0v7.0h-7.0zM130.2 41.5h7.0v7.0h-7.0zM130.6 52.8h7.0v7.0h-7.0zM131.1 66.5h7.0v7.0h-7.0zM131.5 81.3h7.0v7.0h-7.0zM132.0 96.1h7.0v7.0h-7.0zM132.4 110.1h7.0v7.0h-7.0zM132.9 122.7h7.0v7.0h-7.0zM133.3 133.7h7.0v7.0h-7.0zM133.8 142.9h7.0v7.0h-7.0zM134.2 150.4h7.0v7.0h-7.0zM134.7 156.2h7.0v7.0h-7.0zM135.2 160.2h7.0v7.0h-7.0zM135.6 162.6h7.0v7.0h-7.0zM136.1 163.4h7.0v7.0h-7.0zM136.6 162.7h7.0v7.0h-7.0zM137.0 160.5h7.0v7.0h-7.0zM137.5 156.8h7.0v7.0h-7.0zM138.0 151.6h7.0v7.0h-7.0zM138.4 144.8h7.0v7.0h-7.0zM138.9 136.3h7.0v7.0h-7.0zM139.4 126.1h7.0v7.0h-7.0zM139.8 114.2h7.0v7.0h-7.0zM140.3 100.9h7.0v7.0h-7.0zM140.8 86.5h7.0v7.0h-7.0zM141.3 71.6h7.0v7.0h-7.0zM141.7 57.3h7.0v7.0h-7.0zM142.2 44.8h7.0v7.0h-7.0zM142.7 35.6h7.0v7.0h-7.0zM143.2 30.7h7.0v7.0h-7.0zM143.7 30.8h7.0v7.0h-7.0zM144.1 34.8h7.0v7.0h-7.0zM144.6 42.1h7.0v7.0h-7.0zM145.1 51.9h7.0v7.0h-7.0zM145.6 63.2h7.0v7.0h-7.0zM146.1 75.1h7.0v7.0h-7.0zM146.6 86.8h7.0v7.0h-7.0zM147.1 97.6h7.0v7.0h-7.0zM147.6 107.1h7.0v7.0h-7.0zM148.0 115.2h7.0v7.0h-7.0zM148.5 121.6h7.0v7.0h-7.0zM149.0 126.3h7.0v7.0h-7.0zM149.5 129.3h7.0v7.0h-7.0zM150.0 130.4h7.0v7.0h-7.0zM150.5 130.1h7.0v7.0h-7.0zM151.0 128.9h7.0v7.0h-7.0zM151.5 126.7h7.0v7.0h-7.0zM152.0 123.5h7.0v7.0h-7.0zM152.6 119.3h7.0v7.0h-7.0zM153.1 114.2h7.0v7.0h-7.0zM153.6 108.2h7.0v7.0h-7.0zM154.1 101.2h7.0v7.0h-7.0zM154.6 93.5h7.0v7.0h-7.0zM155.1 85.0h7.0v7.0h-7.0zM155.6 76.1h7.0v7.0h-7.0zM156.1 67.0h7.0v7.0h-7.0zM156.7 58.0h7.0v7.0h-7.0zM157.2 49.5h7.0v7.0h-7.0zM157.7 42.0h7.0v7.0h-7.0zM158.2 36.1h7.0v7.0h-7.0zM158.7 32.0h7.0v7.0h-7.0zM159.3 30.2h7.0v7.0h-7.0zM159.8 30.7h7.0v7.0h-7.0zM160.3 32.9h7.0v7.0h-7.0zM160.8 36.7h7.0v7.0h-7.0zM161.4 41.9h7.0v7.0h-7.0zM161.9 48.1h7.0v7.0h-7.0zM162.4 55.1h7.0v7.0h-7.0zM163.0 62.4h7.0v7.0h-7.0zM163.5 69.9h7.0v7.0h-7.0zM164.0 77.1h7.0v7.0h-7.0zM164.6 83.8h7.0v7.0h-7.0zM165.1 90.0h7.0v7.0h-7.0zM165.7 95.4h7.0v7.0h-7.0zM166.2 99.9h7.0v7.0h-7.0zM166.8 103.5h7.0v7.0h-7.0zM167.3 106.2h7.0v7.0h-7.0zM167.9 107.9h7.0v7.0h-7.0zM168.4 108.5h7.0v7.0h-7.0zM169.0 108.2h7.0v7.0h-7.0zM169.5 107.2h7.0v7.0h-7.0zM170.1 105.4h7.0v7.0h-7.0zM170.6 102.9h7.0v7.0h-7.0zM171.2 99.7h7.0v7.0h-7.0zM171.7 95.8h7.0v7.0h-7.0zM172.3 91.3h7.0v7.0h-7.0zM172.9 86.1h7.0v7.0h-7.0zM173.4 80.4h7.0v7.0h-7.0zM174.0 74.3h7.0v7.0h-7.0zM174.6 67.9h7.0v7.0h-7.0zM175.1 61.5h7.0v7.0h-7.0zM175.7 55.1h7.0v7.0h-7.0zM176.3 49.0h7.0v7.0h-7.0zM176.8 43.6h7.0v7.0h-7.0zM177.4 39.0h7.0v7.0h-7.0zM178.0 35.6h7.0v7.0h-7.0zM178.6 33.5h7.0v7.0h-7.0zM179.2 32.8h7.0v7.0h-7.0zM179.7 33.4h7.0v7.0h-7.0zM180.3 35.0h7.0v7.0h-7.0zM180.9 37.6h7.0v7.0h-7.0zM181.5 41.1h7.0v7.0h-7.0zM182.1 45.3h7.0v7.0h-7.0zM182.7 50.0h7.0v7.0h-7.0zM183.3 55.0h7.0v7.0h-7.0zM183.9 60.3h7.0v7.0h-7.0zM184.5 65.5h7.0v7.0h-7.0zM185.1 70.6h7.0v7.0h-7.0zM185.7 75.3h7.0v7.0h-7.0zM186.3 79.7h7.0v7.0h-7.0zM186.9 83.6h7.0v7.0h-7.0zM187.5 86.9h7.0v7.0h-7.0zM188.1 89.6h7.0v7.0h-7.0zM188.7 91.6h7.0v7.0h-7.0zM189.3 92.9h7.0v7.0h-7.0zM189.9 93.4h7.0v7.0h-7.0zM190.5 93.3h7.0v7.0h-7.0zM191.1 92.2h7.0v7.0h-7.0zM191.8 90.4h7.0v7.0h-7.0zM192.4 87.8h7.0v7.0h-7.0zM193.0 84.4h7.0v7.0h-7.0zM193.6 80.3h7.0v7.0h-7.0zM194.3 75.7h7.0v7.0h-7.0zM194.9 70.5h7.0v7.0h-7.0zM195.5 65.1h7.0v7.0h-7.0zM196.1 59.5h7.0v7.0h-7.0zM196.8 54.1h7.0v7.0h-7.0zM197.4 49.1h7.0v7.0h-7.0zM198.0 44.7h7.0v7.0h-7.0zM198.7 41.3h7.0v7.0h-7.0zM199.3 39.0h7.0v7.0h-7.0zM200.0 38.0h7.0v7.0h-7.0zM200.6 38.2h7.0v7.0h-7.0zM201.3 39.1h7.0v7.0h-7.0zM201.9 40.7h7.0v7.0h-7.0zM202.6 42.9h7.0v7.0h-7.0zM203.2 45.7h7.0v7.0h-7.0zM203.9 48.9h7.0v7.0h-7.0zM204.5 52.3h7.0v7.0h-7.0zM205.2 56.0h7.0v7.0h-7.0zM205.8 59.8h7.0v7.0h-7.0zM206.5 63.6h7.0v7.0h-7.0zM207.2 67.2h7.0v7.0h-7.0zM207.8 70.6h7.0v7.0h-7.0zM208.5 73.8h7.0v7.0h-7.0zM209.2 76.5h7.0v7.0h-7.0zM209.9 78.8h7.0v7.0h-7.0zM210.5 80.7h7.0v7.0h-7.0zM211.2 82.0h7.0v7.0h-7.0zM211.9 82.8h7.0v7.0h-7.0zM212.6 83.1h7.0v7.0h-7.0zM213.3 82.8h7.0v7.0h-7.0zM213.9 82.0h7.0v7.0h-7.0zM214.6 80.6h7.0v7.0h-7.0zM215.3 78.8h7.0v7.0h-7.0zM216.0 76.6h7.0v7.0h-7.0zM216.7 74.0h7.0v7.0h-7.0zM217.4 71.1h7.0v7.0h-7.0zM218.1 68.0h7.0v7.0h-7.0zM218.8 64.8h7.0v7.0h-7.0zM219.5 61.6h7.0v7.0h-7.0zM220.2 58.6h7.0v7.0h-7.0zM220.9 55.8h7.0v7.0h-7.0zM221.6 53.6h7.0v7.0h-7.0zM222.4 51.8h7.0v7.0h-7.0zM223.1 50.8h7.0v7.0h-7.0zM223.8 50.4h7.0v7.0h-7.0zM224.5 50.8h7.0v7.0h-7.0zM225.2 51.7h7.0v7.0h-7.0zM226.0 53.1h7.0v7.0h-7.0zM226.7 54.9h7.0v7.0h-7.0zM227.4 57.0h7.0v7.0h-7.0zM228.2 59.3h7.0v7.0h-7.0zM228.9 61.8h7.0v7.0h-7.0zM229.6 64.2h7.0v7.0h-7.0zM230.4 66.5h7.0v7.0h-7.0zM231.1 68.6h7.0v7.0h-7.0zM231.9 70.3h7.0v7.0h-7.0zM232.6 71.7h7.0v7.0h-7.0zM233.3 72.5h7.0v7.0h-7.0zM234.1 72.7h7.0v7.0h-7.0zM234.9 72.6h7.0v7.0h-7.0zM235.6 72.5h7.0v7.0h-7.0zM236.4 72.4h7.0v7.0h-7.0zM237.1 72.3h7.0v7.0h-7.0zM237.9 72.2h7.0v7.0h-7.0zM238.7 72.1h7.0v7.0h-7.0zM239.4 72.1h7.0v7.0h-7.0zM240.2 72.1h7.0v7.0h-7.0zM241.0 72.2h7.0v7.0h-7.0zM241.8 72.4h7.0v7.0h-7.0zM242.5 72.7h7.0v7.0h-7.0zM243.3 73.0h7.0v7.0h-7.0zM244.1 73.4h7.0v7.0h-7.0zM244.9 73.8h7.0v7.0h-7.0zM245.7 74.3h7.0v7.0h-7.0zM246.5 75.2h7.0v7.0h-7.0zM247.3 76.4h7.0v7.0h-7.0zM248.1 77.8h7.0v7.0h-7.0zM248.9 79.3h7.0v7.0h-7.0zM249.7 80.9h7.0v7.0h-7.0zM250.5 82.3h7.0v7.0h-7.0zM251.3 83.5h7.0v7.0h-7.0zM252.1 84.3h7.0v7.0h-7.0zM252.9 84.5h7.0v7.0h-7.0zM253.7 84.2h7.0v7.0h-7.0zM254.6 83.3h7.0v7.0h-7.0zM255.4 82.0h7.0v7.0h-7.0zM256.2 80.5h7.0v7.0h-7.0zM257.1 78.7h7.0v7.0h-7.0zM257.9 76.8h7.0v7.0h-7.0zM258.7 74.9h7.0v7.0h-7.0zM259.6 73.1h7.0v7.0h-7.0zM260.4 71.6h7.0v7.0h-7.0zM261.2 70.4h7.0v7.0h-7.0zM262.1 69.6h7.0v7.0h-7.0zM262.9 69.6h7.0v7.0h-7.0zM263.8 71.9h7.0v7.0h-7.0zM264.7 76.3h7.0v7.0h-7.0zM265.5 81.7h7.0v7.0h-7.0zM266.4 87.0h7.0v7.0h-7.0zM267.2 92.6h7.0v7.0h-7.0zM268.1 99.6h7.0v7.0h-7.0zM269.0 107.7h7.0v7.0h-7.0zM269.9 116.4h7.0v7.0h-7.0zM270.7 125.3h7.0v7.0h-7.0zM271.6 134.1h7.0v7.0h-7.0zM272.5 142.4h7.0v7.0h-7.0zM273.4 149.7h7.0v7.0h-7.0zM274.3 155.6h7.0v7.0h-7.0zM275.2 159.7h7.0v7.0h-7.0zM276.1 161.6h7.0v7.0h-7.0zM277.0 158.8h7.0v7.0h-7.0zM277.9 148.0h7.0v7.0h-7.0zM278.8 132.0h7.0v7.0h-7.0zM279.7 113.2h7.0v7.0h-7.0zM280.6 94.6h7.0v7.0h-7.0zM281.5 79.0h7.0v7.0h-7.0zM282.5 69.3h7.0v7.0h-7.0zM283.5 67.0h7.0v7.0h-7.0zM284.3 72.5h7.0v7.0h-7.0zM285.1 87.5h7.0v7.0h-7.0zM285.7 109.5h7.0v7.0h-7.0zM286.1 143.5h7.0v7.0h-7.0zM286.8 188.9h7.0v7.0h-7.0zM287.6 226.8h7.0v7.0h-7.0zM288.5 254.1h7.0v7.0h-7.0zM289.5 273.0h7.0v7.0h-7.0zM290.4 284.0h7.0v7.0h-7.0zM291.3 293.5h7.0v7.0h-7.0zM292.3 300.5h7.0v7.0h-7.0zM293.2 305.5h7.0v7.0h-7.0zM294.1 309.1h7.0v7.0h-7.0zM295.1 311.7h7.0v7.0h-7.0zM296.0 313.5h7.0v7.0h-7.0zM296.9 314.9h7.0v7.0h-7.0zM297.8 315.8h7.0v7.0h-7.0zM298.8 316.5h7.0v7.0h-7.0zM299.7 317.0h7.0v7.0h-7.0zM300.6 317.4h7.0v7.0h-7.0zM301.6 317.6h7.0v7.0h-7.0zM302.5 317.8h7.0v7.0h-7.0zM303.4 318.0h7.0v7.0h-7.0zM304.4 318.1h7.0v7.0h-7.0zM305.3 318.1h7.0v7.0h-7.0zM306.2 318.2h7.0v7.0h-7.0zM307.1 318.2h7.0v7.0h-7.0zM308.1 318.2h7.0v7.0h-7.0zM309.0 318.3h7.0v7.0h-7.0zM309.9 318.3h7.0v7.0h-7.0zM310.9 318.3h7.0v7.0h-7.0zM311.8 318.3h7.0v7.0h-7.0zM312.7 318.3h7.0v7.0h-7.0zM313.7 318.3h7.0v7.0h-7.0zM314.6 318.3h7.0v7.0h-7.0zM315.5 318.3h7.0v7.0h-7.0zM316.4 318.3h7.0v7.0h-7.0zM317.4 318.3h7.0v7.0h-7.0zM318.3 318.3h7.0v7.0h-7.0zM319.2 318.3h7.0v7.0h-7.0zM320.2 318.3h7.0v7.0h-7.0zM321.1 318.3h7.0v7.0h-7.0zM322.0 318.3h7.0v7.0h-7.0zM323.0 318.3h7.0v7.0h-7.0zM323.9 318.3h7.0v7.0h-7.0zM324.8 318.3h7.0v7.0h-7.0zM325.7 318.3h7.0v7.0h-7.0zM326.7 318.3h7.0v7.0h-7.0zM327.6 318.3h7.0v7.0h-7.0zM328.5 318.3h7.0v7.0h-7.0zM329.5 318.3h7.0v7.0h-7.0zM330.4 318.3h7.0v7.0h-7.0zM331.3 318.3h7.0v7.0h-7.0zM332.3 318.3h7.0v7.0h-7.0zM333.2 318.3h7.0v7.0h-7.0zM334.1 318.3h7.0v7.0h-7.0zM335.0 318.3h7.0v7.0h-7.0zM336.0 318.3h7.0v7.0h-7.0zM336.9 318.3h7.0v7.0h-7.0zM337.8 318.3h7.0v7.0h-7.0zM338.8 318.3h7.0v7.0h-7.0zM339.7 318.3h7.0v7.0h-7.0zM340.6 318.3h7.0v7.0h-7.0zM341.6 318.3h7.0v7.0h-7.0zM342.3 318.3h7.0v7.0h-7.0zM343.5 318.3h7.0v7.0h-7.0zM344.7 318.3h7.0v7.0h-7.0zM345.8 318.3h7.0v7.0h-7.0zM347.0 318.3h7.0v7.0h-7.0zM348.2 318.3h7.0v7.0h-7.0zM349.4 318.3h7.0v7.0h-7.0zM350.6 318.3h7.0v7.0h-7.0zM351.7 318.3h7.0v7.0h-7.0zM352.9 318.3h7.0v7.0h-7.0zM354.1 318.3h7.0v7.0h-7.0zM355.4 318.3h7.0v7.0h-7.0zM356.6 318.3h7.0v7.0h-7.0zM357.8 318.3h7.0v7.0h-7.0zM359.0 318.3h7.0v7.0h-7.0zM360.2 318.3h7.0v7.0h-7.0zM361.5 318.3h7.0v7.0h-7.0zM362.7 318.3h7.0v7.0h-7.0zM364.0 318.3h7.0v7.0h-7.0zM365.2 318.3h7.0v7.0h-7.0zM366.5 318.3h7.0v7.0h-7.0zM367.7 318.3h7.0v7.0h-7.0zM369.0 318.3h7.0v7.0h-7.0zM370.3 318.3h7.0v7.0h-7.0zM371.5 318.3h7.0v7.0h-7.0zM372.8 318.3h7.0v7.0h-7.0zM374.1 318.3h7.0v7.0h-7.0zM375.4 318.3h7.0v7.0h-7.0zM376.7 318.3h7.0v7.0h-7.0zM378.0 318.3h7.0v7.0h-7.0zM379.3 318.3h7.0v7.0h-7.0zM380.6 318.3h7.0v7.0h-7.0zM381.9 318.3h7.0v7.0h-7.0zM383.3 318.3h7.0v7.0h-7.0zM384.6 318.3h7.0v7.0h-7.0zM385.9 318.3h7.0v7.0h-7.0zM387.3 318.3h7.0v7.0h-7.0zM388.6 318.3h7.0v7.0h-7.0zM390.0 318.3h7.0v7.0h-7.0zM391.4 318.3h7.0v7.0h-7.0zM392.7 318.3h7.0v7.0h-7.0zM394.1 318.3h7.0v7.0h-7.0zM395.5 318.3h7.0v7.0h-7.0zM396.9 318.3h7.0v7.0h-7.0zM398.3 318.3h7.0v7.0h-7.0zM399.7 318.3h7.0v7.0h-7.0zM401.1 318.3h7.0v7.0h-7.0zM402.5 318.3h7.0v7.0h-7.0zM403.9 318.3h7.0v7.0h-7.0zM405.3 318.3h7.0v7.0h-7.0zM406.8 318.3h7.0v7.0h-7.0zM408.2 318.3h7.0v7.0h-7.0zM409.7 318.3h7.0v7.0h-7.0zM411.1 318.3h7.0v7.0h-7.0zM412.6 318.3h7.0v7.0h-7.0zM414.0 318.3h7.0v7.0h-7.0zM415.5 318.3h7.0v7.0h-7.0zM417.0 318.3h7.0v7.0h-7.0zM418.5 318.3h7.0v7.0h-7.0zM420.0 318.3h7.0v7.0h-7.0zM421.5 318.3h7.0v7.0h-7.0zM423.0 318.3h7.0v7.0h-7.0zM424.5 318.3h7.0v7.0h-7.0zM426.0 318.3h7.0v7.0h-7.0zM427.6 318.3h7.0v7.0h-7.0zM429.1 318.3h7.0v7.0h-7.0zM430.6 318.3h7.0v7.0h-7.0zM432.2 318.3h7.0v7.0h-7.0zM433.7 318.3h7.0v7.0h-7.0zM435.3 318.3h7.0v7.0h-7.0zM436.9 318.3h7.0v7.0h-7.0zM438.5 318.3h7.0v7.0h-7.0zM440.1 318.3h7.0v7.0h-7.0zM441.7 318.3h7.0v7.0h-7.0zM443.3 318.3h7.0v7.0h-7.0zM444.9 318.2h7.0v7.0h-7.0zM446.5 318.2h7.0v7.0h-7.0zM448.1 318.2h7.0v7.0h-7.0zM449.8 318.1h7.0v7.0h-7.0zM451.4 318.1h7.0v7.0h-7.0zM453.1 318.1h7.0v7.0h-7.0zM454.7 318.0h7.0v7.0h-7.0zM456.4 317.9h7.0v7.0h-7.0zM458.1 317.8h7.0v7.0h-7.0zM459.7 317.6h7.0v7.0h-7.0zM461.4 317.3h7.0v7.0h-7.0zM463.1 317.0h7.0v7.0h-7.0zM464.9 316.7h7.0v7.0h-7.0zM466.6 316.2h7.0v7.0h-7.0zM468.3 315.7h7.0v7.0h-7.0zM470.0 315.0h7.0v7.0h-7.0zM471.8 314.0h7.0v7.0h-7.0zM473.5 312.3h7.0v7.0h-7.0zM475.3 309.7h7.0v7.0h-7.0zM477.1 306.5h7.0v7.0h-7.0zM478.9 301.9h7.0v7.0h-7.0zM481.5 292.5h7.0v7.0h-7.0zM482.9 279.5h7.0v7.0h-7.0zM484.7 258.3h7.0v7.0h-7.0zM486.4 222.8h7.0v7.0h-7.0zM488.0 168.2h7.0v7.0h-7.0zM490.5 100.8h7.0v7.0h-7.0zM492.0 56.3h7.0v7.0h-7.0zM493.6 64.0h7.0v7.0h-7.0zM495.2 104.5h7.0v7.0h-7.0zM497.3 144.5h7.0v7.0h-7.0zM499.1 175.2h7.0v7.0h-7.0zM501.0 196.4h7.0v7.0h-7.0zM502.4 211.2h7.0v7.0h-7.0zM504.3 222.4h7.0v7.0h-7.0zM506.2 228.2h7.0v7.0h-7.0zM507.7 230.5h7.0v7.0h-7.0zM509.1 231.7h7.0v7.0h-7.0zM510.5 232.4h7.0v7.0h-7.0zM512.0 232.6h7.0v7.0h-7.0zM513.7 232.1h7.0v7.0h-7.0zM515.3 231.1h7.0v7.0h-7.0zM516.6 229.1h7.0v7.0h-7.0zM517.8 226.3h7.0v7.0h-7.0zM519.7 215.7h7.0v7.0h-7.0zM521.7 206.0h7.0v7.0h-7.0zM523.6 195.4h7.0v7.0h-7.0zM524.9 182.9h7.0v7.0h-7.0zM526.4 174.2h7.0v7.0h-7.0zM527.4 167.5h7.0v7.0h-7.0zM528.4 158.0h7.0v7.0h-7.0zM529.4 149.0h7.0v7.0h-7.0z" fill="#000"/></g>
<rect x="144.1" y="180.0" width="128.8" height="50.6" fill="url(#g1)" stroke="#1a2a60" stroke-width="0.6"/><rect x="317.3" y="226.0" width="145.2" height="52.3" fill="url(#g2)" stroke="#1a2a60" stroke-width="0.6"/><path d="M187.7 180.3V230.4M197.4 180.3V230.4M201.9 180.3V230.4M212.8 180.3V230.4M265.1 180.3V230.4M329.6 226.3V278M341.6 226.3V278" stroke="#10204a" stroke-opacity="0.4" stroke-width="0.6" fill="none"/><rect x="317.3" y="226.0" width="1.5" height="52.3" fill="#a04020"/>
<path d="M202.2 103.5H211.8V150.9H217.3L207.0 161.3L196.7 150.9H202.2z" fill="#4b7bb9" stroke="#3a5f96" stroke-width="1.2" stroke-linejoin="miter"/><path d="M387.5 283.8L396.0 292.1H391.6V312.5H383.4V292.1H379.0z" fill="#4573b1" stroke="#35609c" stroke-width="1" stroke-linejoin="miter"/>
<rect x="65.0" y="4.2" width="467.9" height="346.8" fill="none" stroke="#1c1c1c" stroke-width="1.35"/><path d="M65.00 351.0v6.5M111.79 351.0v3.5M158.58 351.0v6.5M205.37 351.0v3.5M252.16 351.0v6.5M298.95 351.0v3.5M345.74 351.0v6.5M392.53 351.0v3.5M439.32 351.0v6.5M486.11 351.0v3.5M532.90 351.0v6.5M65.0 322.10h-7.0M65.0 293.20h-3.7M65.0 264.30h-7.0M65.0 235.40h-3.7M65.0 206.50h-7.0M65.0 177.60h-3.7M65.0 148.70h-7.0M65.0 119.80h-3.7M65.0 90.90h-7.0M65.0 62.00h-3.7M65.0 33.10h-7.0M65.0 351.00h-4" stroke="#1c1c1c" stroke-width="1.35" fill="none"/>
<text x="65.3" y="372.8" text-anchor="middle" class="tl">300</text><text x="158.9" y="372.8" text-anchor="middle" class="tl">400</text><text x="252.5" y="372.8" text-anchor="middle" class="tl">500</text><text x="346.0" y="372.8" text-anchor="middle" class="tl">600</text><text x="439.6" y="372.8" text-anchor="middle" class="tl">700</text><text x="533.2" y="372.8" text-anchor="middle" class="tl">800</text><text x="53.6" y="325.6" text-anchor="end" class="tl">0.0</text><text x="53.6" y="267.8" text-anchor="end" class="tl">0.2</text><text x="53.6" y="210.0" text-anchor="end" class="tl">0.4</text><text x="53.6" y="152.2" text-anchor="end" class="tl">0.6</text><text x="53.6" y="94.4" text-anchor="end" class="tl">0.8</text><text x="53.6" y="36.6" text-anchor="end" class="tl">1.0</text><text x="299" y="404.3" text-anchor="middle" class="al">Wavelength [nm]</text><text transform="translate(20.8 192.2) rotate(-90)" text-anchor="middle" class="al">Transmission</text>
</svg>
</body></html>
